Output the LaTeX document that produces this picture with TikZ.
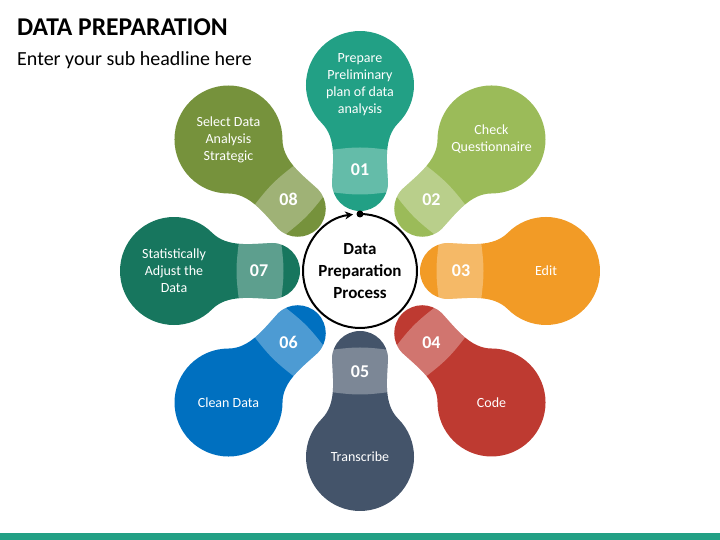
\documentclass[tikz,border=0pt]{standalone}
\usepackage{fontspec}
\setmainfont{Carlito}
\usetikzlibrary{arrows.meta}
\definecolor{planteal}{HTML}{22A085}
\definecolor{checkgreen}{HTML}{9BBB59}
\definecolor{editorange}{HTML}{F29B26}
\definecolor{codered}{HTML}{BE3A31}
\definecolor{transslate}{HTML}{44546A}
\definecolor{cleanblue}{HTML}{0070C0}
\definecolor{adjustgreen}{HTML}{17765E}
\definecolor{strategyolive}{HTML}{76923C}
\tikzset{
  petaltext/.style={text=white,align=center,font=\fontsize{14}{17}\selectfont},
  petalnum/.style={text=white,font=\bfseries\fontsize{18}{20}\selectfont},
  band/.style={fill=white,opacity=.3},
  hub/.style={circle,inner sep=0pt,outer sep=0pt,minimum size=114pt,align=center,font=\bfseries\fontsize{17}{22}\selectfont},
  hubring/.style={line width=2pt,-{Stealth[length=8pt,width=8pt]}},
  headline/.style={anchor=base west,inner sep=0pt,font=\bfseries\fontsize{25.6}{28}\selectfont},
  subheadline/.style={anchor=base west,inner sep=0pt,font=\fontsize{20}{24}\selectfont}
}
\newcommand{\bulb}{(0,-28) arc[start angle=270,end angle=90,radius=28]
  .. controls (22,27) and (45,23.5) .. (59.8,38.2)
  arc[start angle=135,end angle=-135,radius=54]
  .. controls (45,-23.5) and (22,-27) .. (0,-28) -- cycle}
\newcommand{\petal}[5]{%
  \begin{scope}[shift={(hub.center)},rotate=#2,shift={(88,0)}]
    \fill[#3] \bulb;
    \begin{scope}
      \clip \bulb;
      \fill[band] (-7,-45) .. controls (-13,0) .. (-7,45) -- (31,45) .. controls (37,0) .. (31,-45) -- cycle;
    \end{scope}
    \node[petalnum] (#1-num) at (13,0) {#4};
    \node[petaltext] (#1) at (98,0) {#5};
  \end{scope}}

\begin{document}
\begin{tikzpicture}[x=1pt,y=1pt]
  \useasboundingbox (0,0) rectangle (720,540);
  \node[headline] (title) at (17,504) {DATA PREPARATION};
  \node[subheadline] (subtitle) at (17,474) {Enter your sub headline here};
  \fill[planteal] (0,0) rectangle (720,7);

  \node[hub] (hub) at (360,269) {Data\\Preparation\\Process};

  \petal{plan}{90}{planteal}{01}{Prepare\\Preliminary\\plan of data\\analysis}
  \petal{check}{45}{checkgreen}{02}{Check\\Questionnaire}
  \petal{edit}{0}{editorange}{03}{Edit}
  \petal{code}{-45}{codered}{04}{Code}
  \petal{transcribe}{-90}{transslate}{05}{Transcribe}
  \petal{clean}{-135}{cleanblue}{06}{Clean Data}
  \petal{adjust}{180}{adjustgreen}{07}{Statistically\\Adjust the\\Data}
  \petal{strategy}{135}{strategyolive}{08}{Select Data\\Analysis\\Strategic}

  \draw[hubring] (hub.north) arc[start angle=90,end angle=-263,radius=57];
  \fill (hub.north) circle[radius=3.5];
\end{tikzpicture}
\end{document}
